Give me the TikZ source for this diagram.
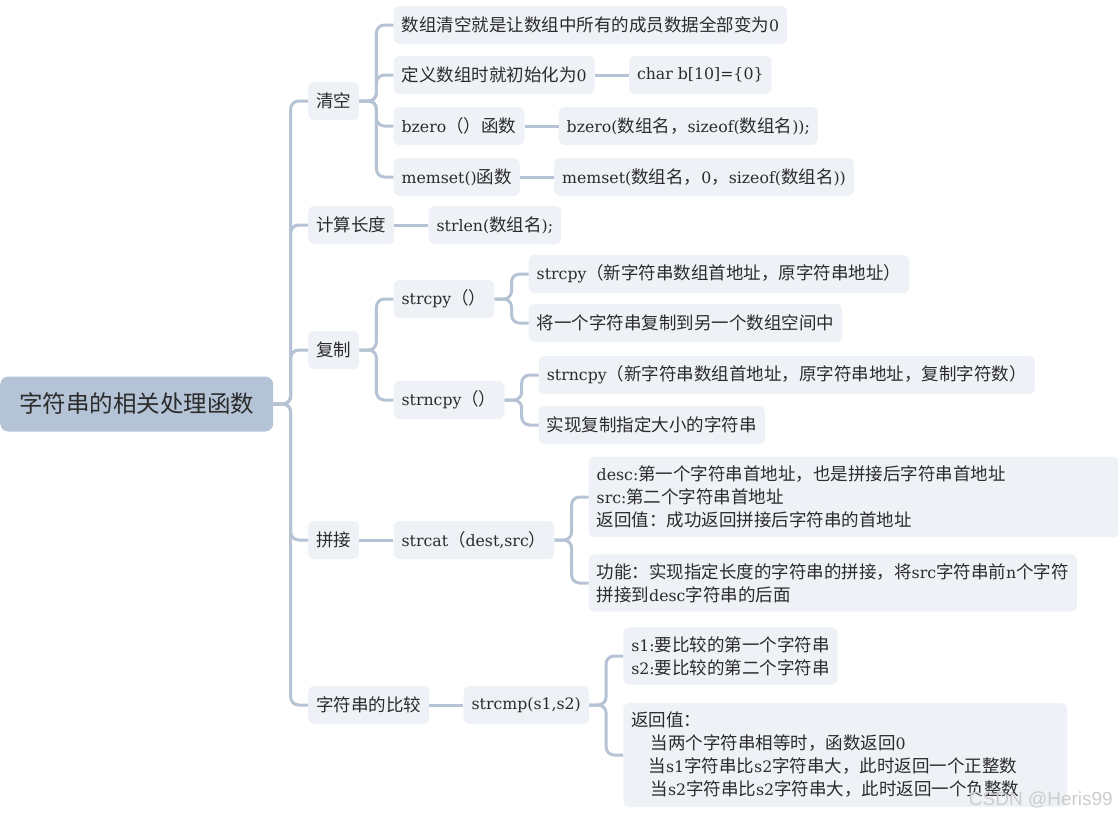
\documentclass[tikz,border=0pt]{standalone}
\usepackage{fontspec}
\setmainfont{DejaVu Serif}[Scale=0.9]
\newfontfamily\cjkfont{Noto Sans CJK SC}
\newfontfamily\latfont{DejaVu Serif}[Scale=0.9]
\newfontfamily\wmfont{Liberation Sans}
% switch to the CJK font for Han characters and full-width punctuation
\XeTeXinterchartokenstate=1
\newXeTeXintercharclass\cjkcls
\newcount\cjkcnt
\cjkcnt="3000 \loop\XeTeXcharclass\cjkcnt=\cjkcls\advance\cjkcnt by 1 \ifnum\cjkcnt<"3040 \repeat
\cjkcnt="4E00 \loop\XeTeXcharclass\cjkcnt=\cjkcls\advance\cjkcnt by 1 \ifnum\cjkcnt<"A000 \repeat
\cjkcnt="FF00 \loop\XeTeXcharclass\cjkcnt=\cjkcls\advance\cjkcnt by 1 \ifnum\cjkcnt<"FFF0 \repeat
\XeTeXinterchartoks 0 \cjkcls = {\cjkfont}
\XeTeXinterchartoks 4095 \cjkcls = {\cjkfont}
\XeTeXinterchartoks \cjkcls 0 = {\latfont}
\XeTeXinterchartoks 4095 0 = {\latfont}
\usepackage{tikz}
\usetikzlibrary{positioning,calc}
\definecolor{linkc}{HTML}{B5C3D4}
\definecolor{boxc}{HTML}{EEF1F6}
\definecolor{rootc}{HTML}{B4C4D6}
\definecolor{ink}{HTML}{2B2B2B}
\tikzset{topic/.style={fill=boxc,rounded corners=6pt,anchor=west,align=left,text=ink,inner xsep=8pt,inner ysep=9pt,minimum height=38pt,font=\fontsize{17.5}{23}\selectfont},link/.style={draw=linkc,line width=3pt,rounded corners=8pt}}

\begin{document}
\begin{tikzpicture}[x=1pt,y=-1pt,kid/.style={topic},rootbox/.style={topic,fill=rootc,minimum width=273pt,minimum height=55pt,align=center,rounded corners=8pt,font=\fontsize{23.5}{28}\selectfont}]
\useasboundingbox (0,0) rectangle (1118,820);
\node[rootbox] (root) at (0,404) {字符串的相关处理函数};
\foreach \id/\y/\txt in {qk/101/清空,jscd/225/计算长度,fz/350/复制,pj/540/拼接,bj/705/字符串的比较}{\node[topic] (\id) at (308,\y) {\txt};}
% 清空
\node[kid] (qk1) at ([xshift=34pt]qk.east|-0,25) {数组清空就是让数组中所有的成员数据全部变为0};
\node[kid] (qk2) at ([xshift=34pt]qk.east|-0,75) {定义数组时就初始化为0};
\node[kid] (qk3) at ([xshift=34pt]qk.east|-0,126) {bzero（）函数};
\node[kid] (qk4) at ([xshift=34pt]qk.east|-0,177) {memset()函数};
\node[kid] (qk2a) at ([xshift=34pt]qk2.east) {char b[10]=\{0\}};
\node[kid] (qk3a) at ([xshift=34pt]qk3.east) {bzero(数组名，sizeof(数组名));};
\node[kid] (qk4a) at ([xshift=34pt]qk4.east) {memset(数组名，0，sizeof(数组名))};
% 计算长度
\node[kid] (jscd1) at ([xshift=34pt]jscd.east) {strlen(数组名);};
% 复制
\node[kid] (cpy) at ([xshift=34pt]fz.east|-0,299) {strcpy（）};
\node[kid] (ncpy) at ([xshift=34pt]fz.east|-0,400) {strncpy（）};
\node[kid] (cpy1) at ([xshift=34pt]cpy.east|-0,274) {strcpy（新字符串数组首地址，原字符串地址）};
\node[kid] (cpy2) at ([xshift=34pt]cpy.east|-0,323) {将一个字符串复制到另一个数组空间中};
\node[kid] (ncpy1) at ([xshift=34pt]ncpy.east|-0,375) {strncpy（新字符串数组首地址，原字符串地址，复制字符数）};
\node[kid] (ncpy2) at ([xshift=34pt]ncpy.east|-0,425) {实现复制指定大小的字符串};
% 拼接
\node[kid] (cat) at ([xshift=34pt]pj.east) {strcat（dest,src）};
\node[kid,text width=514pt] (cat1) at ([xshift=34pt]cat.east|-0,497) {desc:第一个字符串首地址，也是拼接后字符串首地址\\src:第二个字符串首地址\\返回值：成功返回拼接后字符串的首地址};
\node[kid] (cat2) at ([xshift=34pt]cat.east|-0,583) {功能：实现指定长度的字符串的拼接，将src字符串前n个字符\\拼接到desc字符串的后面};
% 字符串的比较
\node[kid] (cmp) at ([xshift=34pt]bj.east) {strcmp(s1,s2)};
\node[kid] (cmp1) at ([xshift=34pt]cmp.east|-0,656) {s1:要比较的第一个字符串\\s2:要比较的第二个字符串};
\node[kid,text width=428pt] (cmp2) at ([xshift=34pt]cmp.east|-0,755) {返回值：\\\hspace*{1.1em}当两个字符串相等时，函数返回0\\\hspace*{1.1em}当s1字符串比s2字符串大，此时返回一个正整数\\\hspace*{1.1em}当s2字符串比s2字符串大，此时返回一个负整数};
% bracket links
\foreach \a/\b in {root/qk,root/jscd,root/fz,root/pj,root/bj,qk/qk1,qk/qk2,qk/qk3,qk/qk4,fz/cpy,fz/ncpy,cpy/cpy1,cpy/cpy2,ncpy/ncpy1,ncpy/ncpy2,cat/cat1,cat/cat2,cmp/cmp1,cmp/cmp2}
  \draw[link] (\a.east) -- ($(\a.east)!.5!(\a.east-|\b.west)$) |- (\b.west);
% straight links
\foreach \a/\b in {qk2/qk2a,qk3/qk3a,qk4/qk4a,jscd/jscd1,pj/cat,bj/cmp}
  \draw[link] (\a.east) -- (\b.west);
\node[anchor=east,text=gray!40,font={\XeTeXinterchartokenstate=0 \wmfont\fontsize{19}{19}\selectfont}] (wm) at (1116,800) {CSDN @Heris99};
\end{tikzpicture}
\end{document}
